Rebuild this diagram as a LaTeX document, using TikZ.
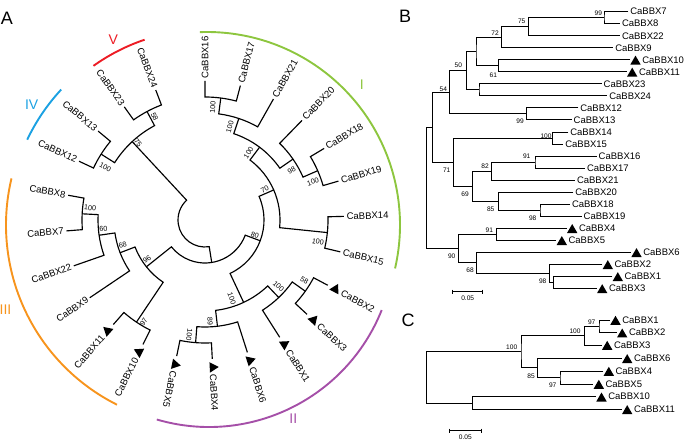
\documentclass[tikz,border=0pt]{standalone}
\usepackage{fontspec}
\setmainfont{Liberation Sans}
\usetikzlibrary{shapes.geometric}
\definecolor{cI}{HTML}{8DC63F}
\definecolor{cII}{HTML}{A54FA8}
\definecolor{cIII}{HTML}{F7941D}
\definecolor{cIV}{HTML}{1BA1E2}
\definecolor{cV}{HTML}{ED1C24}
\newcommand\anode[5]{\draw[tree] (#2:#3pt) -- (#2:#1pt) arc[start angle=#2, end angle=#4, radius=#1pt] -- (#4:#5pt);}
\newcommand\leafR[3]{\node[lab,anchor=west,rotate=#2] (#1) at (#2:141pt) {#3};}
\newcommand\leafL[3]{\node[lab,anchor=east,rotate=#2+180] (#1) at (#2:141pt) {#3};}
\newcommand\tleafR[3]{\node[tri,rotate=#2] (t#1) at (#2:147.5pt) {};\node[lab,anchor=west,rotate=#2] (#1) at (#2:154pt) {#3};}
\newcommand\tleafL[3]{\node[tri,rotate=#2+180] (t#1) at (#2:147.5pt) {};\node[lab,anchor=east,rotate=#2+180] (#1) at (#2:154pt) {#3};}
\newcommand\bsA[4]{\node[bsa,rotate=#4] at (#1:#2pt) {#3};}
\begin{document}
\begin{tikzpicture}[
  tree/.style={line width=1.15pt, black, line join=miter},
  rtree/.style={line width=0.95pt, black, line join=miter},
  lab/.style={font=\fontsize{9.5}{10}\selectfont, inner sep=0.6pt},
  bsa/.style={font=\fontsize{7.2}{8}\selectfont, inner sep=0pt},
  bsb/.style={font=\fontsize{6.6}{7}\selectfont, inner sep=0pt},
  tri/.style={regular polygon, regular polygon sides=3, fill=black, draw=none, inner sep=0pt, minimum size=12pt},
  clade/.style={line width=1.9pt},
  roman/.style={font=\fontsize{14}{14}\selectfont, inner sep=0pt},
  panel/.style={font=\fontsize{18}{18}\selectfont, inner sep=0pt}
]
\useasboundingbox (0,0) rectangle (685pt,-443pt);
% ---------------- Panel A: circular tree ----------------
\begin{scope}[shift={(205pt,-220pt)}]
\anode{123}{90}{139}{75.25}{139}
\anode{107}{82.625}{123}{60.5}{139}
\anode{123}{31}{139}{16.25}{139}
\anode{107}{45.75}{139}{23.625}{123}
\anode{91}{71.5625}{107}{34.6875}{107}
\anode{123}{1.5}{139}{-13.25}{139}
\anode{75}{53.125}{91}{-5.875}{123}
\anode{123}{-28}{139}{-42.75}{139}
\anode{107}{-35.375}{123}{-57.5}{139}
\anode{123}{-87}{139}{-101.75}{139}
\anode{107}{-72.25}{139}{-94.375}{123}
\anode{91}{-46.4375}{107}{-83.3125}{107}
\anode{59}{23.625}{75}{-64.875}{91}
\anode{123}{-116.5}{139}{-131.25}{139}
\anode{123}{-175.5}{139}{-190.25}{139}
\anode{107}{-160.75}{139}{-182.875}{123}
\anode{91}{-146}{139}{-171.8125}{107}
\anode{75}{-123.875}{123}{-158.90625}{91}
\anode{43}{-20.625}{59}{-141.390625}{75}
\anode{123}{-205}{139}{-219.75}{139}
\anode{123}{-234.5}{139}{-249.25}{139}
\anode{107}{-212.375}{123}{-241.875}{123}
\anode{27}{-81.0078}{43}{-227.125}{107}
% leaves
\leafR{a16}{90}{CaBBX16}
\leafR{a17}{75.25}{CaBBX17}
\leafR{a21}{60.5}{CaBBX21}
\leafR{a20}{45.75}{CaBBX20}
\leafR{a18}{31}{CaBBX18}
\leafR{a19}{16.25}{CaBBX19}
\leafR{a14}{1.5}{CaBBX14}
\leafR{a15}{-13.25}{CaBBX15}
\tleafR{a2}{-28}{CaBBX2}
\tleafR{a3}{-42.75}{CaBBX3}
\tleafR{a1}{-57.5}{CaBBX1}
\tleafR{a6}{-72.25}{CaBBX6}
\tleafR{a4}{-87}{CaBBX4}
\tleafR{a5}{-101.75}{CaBBX5}
\tleafL{a10}{-116.5}{CaBBX10}
\tleafL{a11}{-131.25}{CaBBX11}
\leafL{a9}{-146}{CaBBX9}
\leafL{a22}{-160.75}{CaBBX22}
\leafL{a7}{-175.5}{CaBBX7}
\leafL{a8}{-190.25}{CaBBX8}
\leafL{a12}{-205}{CaBBX12}
\leafL{a13}{-219.75}{CaBBX13}
\leafL{a23}{-234.5}{CaBBX23}
\leafL{a24}{-249.25}{CaBBX24}
% bootstrap values
\bsA{86}{113}{100}{86}
\bsA{75}{96}{100}{75}
\bsA{57}{80}{100}{57}
\bsA{30}{100}{98}{30}
\bsA{19.4}{114.5}{100}{19.4}
\bsA{27}{67}{70}{27}
\bsA{-11}{115}{100}{-11}
\bsA{-16.7}{52}{80}{-16.7}
\bsA{-71.2}{83}{100}{-71.2}
\bsA{-42}{99}{100}{-42}
\bsA{-31.5}{116.5}{58}{-31.5}
\bsA{-87.2}{102}{89}{-87.2}
\bsA{-97.8}{116}{100}{-97.8}
\bsA{-121}{119}{97}{59}
\bsA{-146}{70}{96}{34}
\bsA{-163}{86}{68}{17}
\bsA{-175}{102}{60}{5}
\bsA{-186}{115.6}{100}{-6}
\bsA{-208}{113}{100}{-28}
\bsA{-244}{115}{58}{-64}
\bsA{-229}{102}{75}{-49}
\end{scope}
% clade arcs
\begin{scope}[shift={(207pt,-225pt)}]
\draw[clade,cI] (92.1:193pt) arc[start angle=92.1, end angle=-13, radius=193pt];
\draw[clade,cV] (125.5:195.5pt) arc[start angle=125.5, end angle=108.6, radius=195.5pt];
\draw[clade,cIV] (154.6:199pt) arc[start angle=154.6, end angle=137.1, radius=199pt];
\draw[clade,cIII] (166.6:201pt) arc[start angle=166.6, end angle=243.4, radius=201pt];
\end{scope}
\begin{scope}[shift={(209pt,-241pt)}]
\draw[clade,cII] (-106.3:186pt) arc[start angle=-106.3, end angle=-21.8, radius=186pt];
\end{scope}
% ---------------- pixel-coordinate scope ----------------
\begin{scope}[x=1pt,y=-1pt]
\node[panel] (pA) at (7,18) {A};
\node[panel] (pB) at (405,16.7) {B};
\node[panel] (pC) at (408,320.3) {C};
\node[roman,text=cI] (rI) at (361.7,85) {I};
\node[roman,text=cV] (rV) at (113.3,40) {V};
\node[roman,text=cIV] (rIV) at (31.7,105) {IV};
\node[roman,text=cIII] (rIII) at (5.5,310) {III};
\node[roman,text=cII] (rII) at (293.3,418.5) {II};
% ---------------- Panel B ----------------
\coordinate (b7) at (628.3,11.7);
\coordinate (b8) at (620,23.73);
\coordinate (b22) at (620,35.76);
\coordinate (b9) at (613.3,47.79);
\coordinate (b10) at (630,59.82);
\coordinate (b11) at (626.7,71.85);
\coordinate (b23) at (601.7,83.88);
\coordinate (b24) at (607.3,95.91);
\coordinate (b12) at (578.3,107.94);
\coordinate (b13) at (571.7,119.97);
\coordinate (b14) at (568.3,132);
\coordinate (b15) at (563.3,144.03);
\coordinate (b16) at (596.7,156.06);
\coordinate (b17) at (585,168.09);
\coordinate (b21) at (575,180.12);
\coordinate (b20) at (573.3,192.15);
\coordinate (b18) at (570,204.18);
\coordinate (b19) at (581.7,216.21);
\coordinate (b4) at (566.7,228.24);
\coordinate (b5) at (556.3,240.27);
\coordinate (b6) at (631,252.3);
\coordinate (b2) at (602.3,264.33);
\coordinate (b1) at (612.3,276.36);
\coordinate (b3) at (596.7,288.39);
\coordinate (n99) at (604,17.72);
\coordinate (n75) at (528.3,26.74);
\coordinate (n72) at (501.7,37.27);
\coordinate (n61) at (498.3,65.84);
\coordinate (nA) at (476,51.55);
\coordinate (n2324) at (479,89.9);
\coordinate (n50) at (466.7,70.72);
\coordinate (n1213) at (526.7,113.96);
\coordinate (n54) at (449.3,92.34);
\coordinate (n1415) at (552.3,138.0);
\coordinate (n91a) at (535,162.07);
\coordinate (n82) at (491.7,171.1);
\coordinate (n98a) at (540,210.2);
\coordinate (n85) at (498.3,201.17);
\coordinate (n69) at (472.7,186.13);
\coordinate (n71) at (453.3,162.07);
\coordinate (nB) at (432.3,127.2);
\coordinate (n91b) at (496.7,234.26);
\coordinate (n98b) at (553.3,282.38);
\coordinate (nC) at (549.3,273.35);
\coordinate (n68) at (476.7,262.8);
\coordinate (n90) at (458.3,248.5);
\coordinate (rB) at (426.7,187.9);
\draw[rtree] (b7) -| (n99) |- (b8);
\draw[rtree] (n99) -| (n75) |- (b22);
\draw[rtree] (n75) -| (n72) |- (b9);
\draw[rtree] (b10) -| (n61) |- (b11);
\draw[rtree] (n72) -| (nA) |- (n61);
\draw[rtree] (b23) -| (n2324) |- (b24);
\draw[rtree] (nA) -| (n50) |- (n2324);
\draw[rtree] (b12) -| (n1213) |- (b13);
\draw[rtree] (n50) -| (n54) |- (n1213);
\draw[rtree] (b14) -| (n1415) |- (b15);
\draw[rtree] (b16) -| (n91a) |- (b17);
\draw[rtree] (n91a) -| (n82) |- (b21);
\draw[rtree] (b18) -| (n98a) |- (b19);
\draw[rtree] (b20) -| (n85) |- (n98a);
\draw[rtree] (n82) -| (n69) |- (n85);
\draw[rtree] (n1415) -| (n71) |- (n69);
\draw[rtree] (n54) -| (nB) |- (n71);
\draw[rtree] (b4) -| (n91b) |- (b5);
\draw[rtree] (b1) -| (n98b) |- (b3);
\draw[rtree] (b2) -| (nC) |- (n98b);
\draw[rtree] (b6) -| (n68) |- (nC);
\draw[rtree] (n91b) -| (n90) |- (n68);
\draw[rtree] (nB) -| (rB) |- (n90);
\foreach \l/\t in {b7/CaBBX7,b8/CaBBX8,b22/CaBBX22,b9/CaBBX9,b23/CaBBX23,b24/CaBBX24,b12/CaBBX12,b13/CaBBX13,b14/CaBBX14,b15/CaBBX15,b16/CaBBX16,b17/CaBBX17,b21/CaBBX21,b20/CaBBX20,b18/CaBBX18,b19/CaBBX19}
  \node[lab,anchor=west] (L\l) at ([xshift=1.2pt]\l) {\t};
\foreach \l/\t in {b10/CaBBX10,b11/CaBBX11,b4/CaBBX4,b5/CaBBX5,b6/CaBBX6,b2/CaBBX2,b1/CaBBX1,b3/CaBBX3}{
  \node[tri,yshift=-1.8pt] (T\l) at ([xshift=5.5pt]\l) {};
  \node[lab,anchor=west] (L\l) at ([xshift=11.5pt]\l) {\t};}
\foreach \p/\v in {{598.3,13.3}/99,{521.7,21.7}/75,{495,33.3}/72,{493.3,75}/61,{458.3,65.7}/50,{443.3,89.3}/54,{520,121.7}/99,{546,136.7}/100,{526.7,156.7}/91,{485,166}/82,{446.7,170}/71,{465,194.3}/69,{490.7,209.3}/85,{532.7,218.3}/98,{489.3,230}/91,{451.7,256.7}/90,{470,270.7}/68,{542.7,281}/98}
  \node[bsb] at (\p) {\v};
\coordinate (sb1) at (452.7,291.7);
\coordinate (sb2) at (482.7,291.7);
\draw[line width=0.7pt] (sb1) -- (sb2);
\draw[line width=0.7pt] ([yshift=2pt]sb1) -- ([yshift=-2pt]sb1);
\draw[line width=0.7pt] ([yshift=2pt]sb2) -- ([yshift=-2pt]sb2);
\node[bsb] (sbl) at (467.7,298) {0.05};
% ---------------- Panel C ----------------
\coordinate (c1) at (610,320);
\coordinate (c2) at (616.7,332.7);
\coordinate (c3) at (601.7,345);
\coordinate (c6) at (621.7,358.3);
\coordinate (c4) at (603.3,371);
\coordinate (c5) at (593.3,384);
\coordinate (c10) at (596,396.7);
\coordinate (c11) at (621.7,409.3);
\coordinate (m97a) at (599,326.35);
\coordinate (m100a) at (584.3,335.7);
\coordinate (m97b) at (560,377.5);
\coordinate (m85) at (537.7,367.9);
\coordinate (m100b) at (521,351.8);
\coordinate (m1011) at (472.3,403);
\coordinate (rC) at (426.7,377.4);
\draw[rtree] (c1) -| (m97a) |- (c2);
\draw[rtree] (m97a) -| (m100a) |- (c3);
\draw[rtree] (c4) -| (m97b) |- (c5);
\draw[rtree] (c6) -| (m85) |- (m97b);
\draw[rtree] (m100a) -| (m100b) |- (m85);
\draw[rtree] (c10) -| (m1011) |- (c11);
\draw[rtree] (m100b) -| (rC) |- (m1011);
\foreach \l/\t in {c1/CaBBX1,c2/CaBBX2,c3/CaBBX3,c6/CaBBX6,c4/CaBBX4,c5/CaBBX5,c10/CaBBX10,c11/CaBBX11}{
  \node[tri,yshift=-1.8pt] (T\l) at ([xshift=5.5pt]\l) {};
  \node[lab,anchor=west] (L\l) at ([xshift=11.5pt]\l) {\t};}
\foreach \p/\v in {{591.7,322.3}/97,{575,331.7}/100,{511.7,347.3}/100,{531,376}/85,{552.7,385}/97}
  \node[bsb] at (\p) {\v};
\coordinate (sc1) at (449,430.7);
\coordinate (sc2) at (481.7,430.7);
\draw[line width=0.7pt] (sc1) -- (sc2);
\draw[line width=0.7pt] ([yshift=2pt]sc1) -- ([yshift=-2pt]sc1);
\draw[line width=0.7pt] ([yshift=2pt]sc2) -- ([yshift=-2pt]sc2);
\node[bsb] (scl) at (465.3,437) {0.05};
\end{scope}
\end{tikzpicture}
\end{document}
